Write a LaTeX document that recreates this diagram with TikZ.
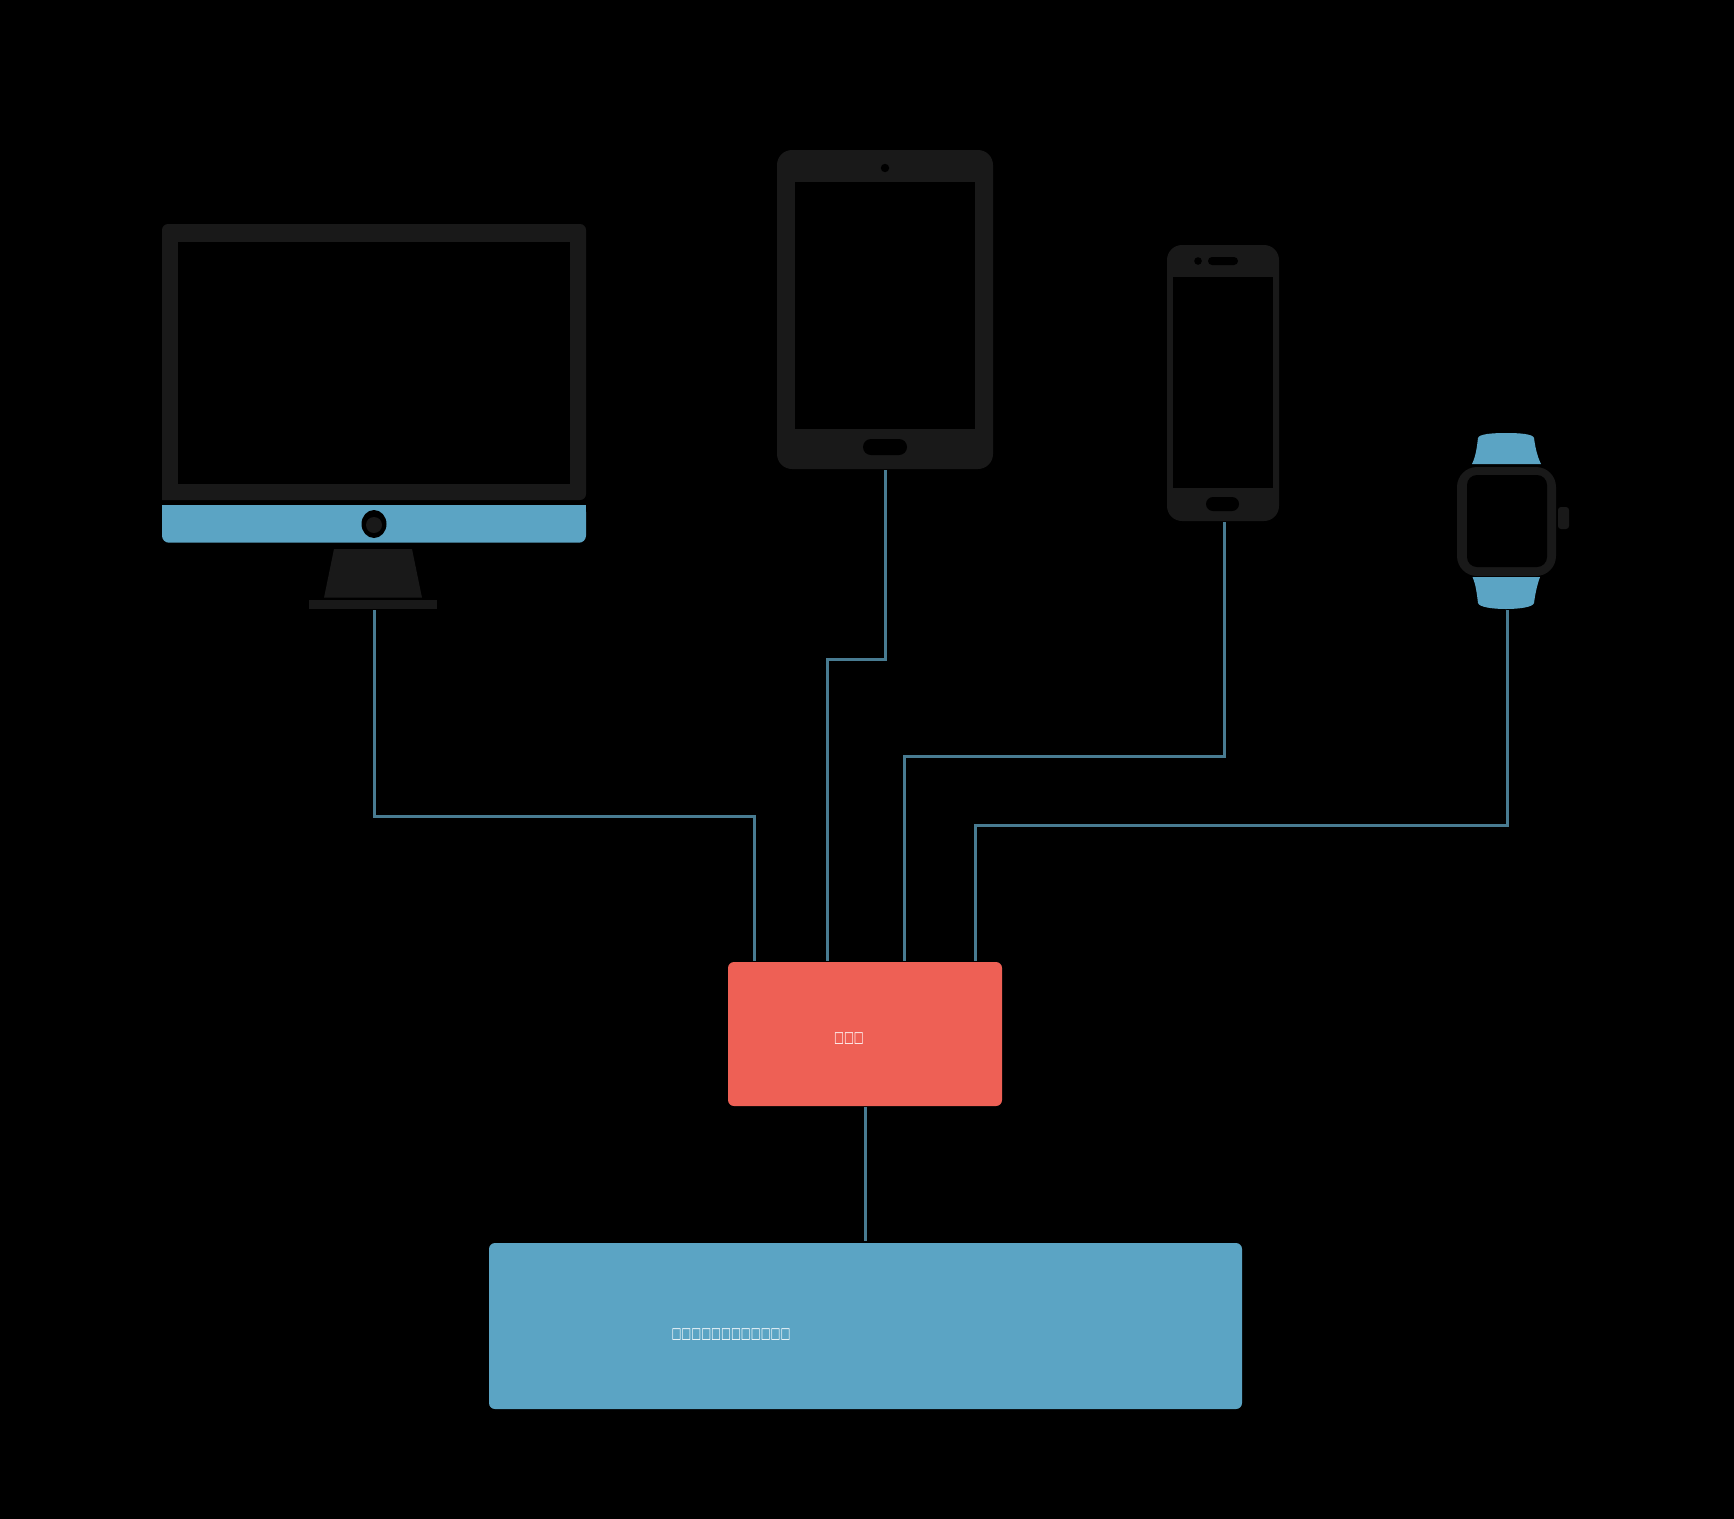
\documentclass[tikz,border=0pt]{standalone}
\usepackage{fontspec}
\newfontfamily\boxfont[FakeStretch=0.69]{DejaVu Sans}
\definecolor{bodydark}{HTML}{191919}
\definecolor{accent}{HTML}{5BA4C4}
\definecolor{hub}{HTML}{EE6055}
\definecolor{wire}{HTML}{487B91}
\tikzset{
  x=1pt,y=-1pt,
  shell/.style={fill=bodydark,draw=none},
  hole/.style={fill=black,draw=none},
  blue part/.style={fill=accent,draw=none},
  wirepath/.style={draw=wire,line width=3pt},
  panel/.style={rectangle,rounded corners=6pt,draw=none,inner sep=0pt},
  tofu/.style={text=white,inner sep=0pt,font=\boxfont\fontsize{15.2}{16}\selectfont},
  anchorbox/.style={rectangle,fill=bodydark,draw=none,inner sep=0pt},
}
\begin{document}
\begin{tikzpicture}
\useasboundingbox (0,0) rectangle (1734,1518);
\fill[black] (-3,-3) rectangle (1737,1521);

% monitor
\fill[shell,rounded corners=6pt] (162,500) -- (162,224) -- (586,224) -- (586,500) [sharp corners] -- cycle;
\fill[hole] (178,242) rectangle (570,484);
\fill[blue part,rounded corners=7pt] (162,505) -- (586,505) -- (586,542.7) -- (162,542.7) -- cycle;
\fill[accent] (162,505) rectangle (586,520);
\fill[hole] (374,524) ellipse [x radius=12.5,y radius=14];
\fill[fill=bodydark] (374,525) circle [radius=8];
\fill[shell] (334,549) -- (412,549) -- (422,597.7) -- (324,597.7) -- cycle;
\node[anchorbox,minimum width=128pt,minimum height=9pt,outer sep=1pt] (monbase) at (373,604.5) {};

% tablet
\node[anchorbox,rounded corners=15pt,minimum width=216pt,minimum height=319pt,outer sep=1pt] (tablet) at (885,309.5) {};
\fill[hole] (795,182) rectangle (975,428.5);
\fill[hole] (885,168) circle [radius=4.2];
\fill[hole,rounded corners=8pt] (863,439) rectangle (907,455);

% phone
\node[anchorbox,rounded corners=15pt,minimum width=112pt,minimum height=276pt,outer sep=1pt] (phone) at (1223,383) {};
\fill[hole] (1173,277) rectangle (1273,488);
\fill[hole] (1198,261) circle [radius=3.8];
\fill[hole,rounded corners=4pt] (1208,257) rectangle (1238,265);
\fill[hole,rounded corners=7pt] (1206,497) rectangle (1239,511);

% watch
\fill[blue part] (1472,464) .. controls (1476,456) and (1477,446) .. (1478,438) .. controls (1479,434) and (1492,433) .. (1506,433) .. controls (1520,433) and (1533,434) .. (1534,438) .. controls (1535,446) and (1537,456) .. (1541,464) -- cycle;
\path[blue part] (1472.5,577) .. controls (1476,585) and (1477,595) .. (1478,603) .. controls (1479,607) and (1492,609) .. (1506,609) .. controls (1520,609) and (1533,607) .. (1534,603) .. controls (1535,595) and (1537,585) .. (1540,577) -- cycle;
\coordinate (watchout) at (1507.5,610);
\fill[shell,rounded corners=20pt] (1457,467) rectangle (1556,576);
\fill[hole,rounded corners=10pt] (1467,475) rectangle (1547,567);
\fill[shell,rounded corners=3pt] (1558,507) rectangle (1569,529);

% boxes
\node[panel,fill=hub,minimum width=274pt,minimum height=144pt,outer sep=1pt] (hubbox) at (865,1034) {};
\node[panel,fill=accent,minimum width=753pt,minimum height=166pt,outer sep=2pt] (store) at (865.5,1326) {};
\node[tofu] (hublabel) at (849,1038.5) {□□□};
\node[tofu] (storelabel) at (731,1335) {□□□□□□□□□□□□};

% connectors
\coordinate (p1) at (754.5,816);
\coordinate (p2) at (827,659);
\coordinate (p3) at (904,756.5);
\coordinate (p4) at (975.5,825);
\draw[wirepath] (monbase.south -| 374.5,0) |- (p1) -- (p1 |- hubbox.north);
\draw[wirepath] (tablet.south) |- (p2) -- (p2 |- hubbox.north);
\draw[wirepath] (phone.south -| 1224.5,0) |- (p3) -- (p3 |- hubbox.north);
\draw[wirepath] (watchout) |- (p4) -- (p4 |- hubbox.north);
\draw[wirepath] (hubbox.south) -- (hubbox.south |- store.north);
\end{tikzpicture}
\end{document}
